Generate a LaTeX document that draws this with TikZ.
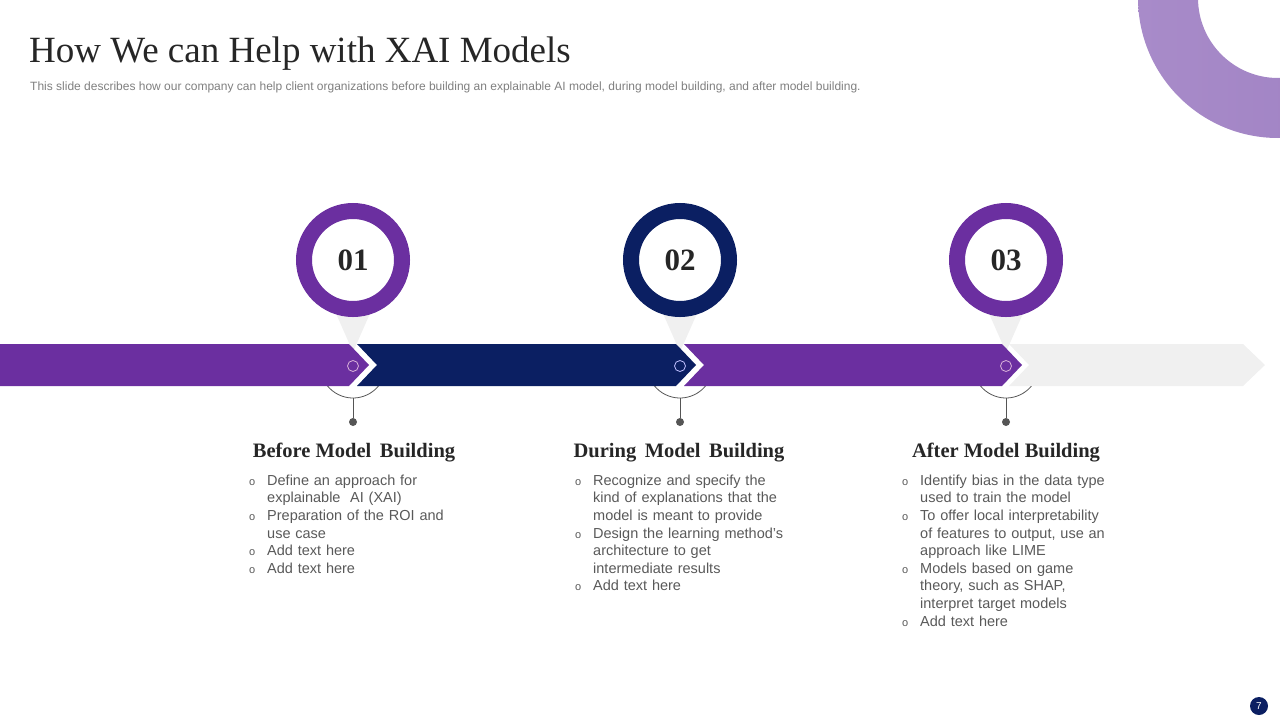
\documentclass[tikz,border=0pt]{standalone}
\usepackage{fontspec}
\setmainfont{Liberation Serif}
\setsansfont{Liberation Sans}
\definecolor{vpurple}{HTML}{6B2FA0}
\definecolor{vnavy}{HTML}{0B1F62}
\definecolor{lgray}{HTML}{F0F0F0}
\definecolor{tgray}{HTML}{595959}
\definecolor{sgray}{HTML}{7F7F7F}
\definecolor{lav}{HTML}{A88BC9}
\definecolor{lavd}{HTML}{9E80C2}
\definecolor{dgray}{HTML}{555555}
\newcommand{\bitem}[1]{\par\noindent\hangindent=18pt\hangafter=1\makebox[18pt][l]{\fontsize{11}{11}\selectfont o}#1}
\begin{document}
\begin{tikzpicture}[x=1pt,y=-1pt,
  ringnode/.style={circle,line width=16pt,fill=white,minimum size=98pt,inner sep=0pt,
    font=\bfseries\fontsize{31}{32}\selectfont,text=black!85},
  pointer/.style={fill=lgray},
  smallc/.style={circle,draw=white,line width=0.8pt,minimum size=11pt,inner sep=0pt},
  dotnode/.style={circle,fill=dgray,minimum size=8pt,inner sep=0pt},
  stem/.style={draw=dgray,line width=1pt},
  arcline/.style={draw=dgray,line width=0.8pt},
  heading/.style={anchor=base,font=\bfseries\fontsize{20.5}{22}\selectfont,text=black!85},
  bullets/.style={anchor=north west,inner sep=0pt,text width=260pt,align=left,
    font=\sffamily\fontsize{14.5}{17.6}\selectfont,text=tgray}
]
\useasboundingbox (0,0) rectangle (1280,720);
% decorative quarter ring
\begin{scope}
\clip (0,0) rectangle (1280,720);
\shade[left color=lav,right color=lavd,even odd rule] (1278,-2) circle[radius=140] (1278,-2) circle[radius=80];
\end{scope}
% title
\node[anchor=base west,inner sep=0pt,font=\fontsize{37}{42}\selectfont,text=black!85] (title) at (29,62) {How We can Help with XAI Models};
\node[anchor=base west,inner sep=0pt,font=\sffamily\fontsize{12}{14}\selectfont,text=sgray] (sub) at (30,90.5) {This slide describes how our company can help client organizations before building an explainable AI model, during model building, and after model building.};
% pointers
\foreach \cx in {353,680,1006}{
  \fill[pointer] (\cx-23,300) -- (\cx+23,300) -- (\cx,352) -- cycle;
}
% arcs below bar
\foreach \cx in {353,680,1006}{
  \draw[arcline] (\cx,365) ++(20:33) arc[start angle=20,end angle=160,radius=33];
}
% bar segments
\fill[vpurple] (0,344) -- (349,344) -- (369,365) -- (349,386) -- (0,386) -- cycle;
\fill[vnavy] (357,344) -- (676,344) -- (696,365) -- (676,386) -- (357,386) -- (377,365) -- cycle;
\fill[vpurple] (684,344) -- (1002,344) -- (1022,365) -- (1002,386) -- (684,386) -- (704,365) -- cycle;
\fill[lgray] (1009,344) -- (1243,344) -- (1265,365) -- (1243,386) -- (1009,386) -- (1029,365) -- cycle;
% rings
\node[ringnode,draw=vpurple] (r1) at (353,260) {01};
\node[ringnode,draw=vnavy] (r2) at (680,260) {02};
\node[ringnode,draw=vpurple] (r3) at (1006,260) {03};
% small circles on bar
\node[smallc,draw=violet!30] (c1) at (353,366) {};
\node[smallc,draw=blue!25] (c2) at (680,366) {};
\node[smallc,draw=violet!30] (c3) at (1006,366) {};
% stems and dots
\coordinate (a1) at (353,398);
\coordinate (a2) at (680,398);
\coordinate (a3) at (1006,398);
\node[dotnode] (d1) at (353,422) {};
\node[dotnode] (d2) at (680,422) {};
\node[dotnode] (d3) at (1006,422) {};
\draw[stem] (a1) -- (d1);
\draw[stem] (a2) -- (d2);
\draw[stem] (a3) -- (d3);
% headings
\node[heading] (h1) at (354,457) {Before Model\ \,Building};
\node[heading] (h2) at (679,457) {During\ \,Model\ \,Building};
\node[heading] (h3) at (1006,457) {After Model Building};
% bullet lists
\node[bullets] (b1) at (249,467.5) {%
\bitem{Define an approach for\newline explainable\ \ AI (XAI)}
\bitem{Preparation of the ROI and\newline use case}
\bitem{Add text here}
\bitem{Add text here}};
\node[bullets] (b2) at (575,467.5) {%
\bitem{Recognize and specify the\newline kind of explanations that the\newline model is meant to provide}
\bitem{Design the learning method's\newline architecture to get\newline intermediate results}
\bitem{Add text here}};
\node[bullets] (b3) at (902,467.5) {%
\bitem{Identify bias in the data type\newline used to train the model}
\bitem{To offer local interpretability\newline of features to output, use an\newline approach like LIME}
\bitem{Models based on game\newline theory, such as SHAP,\newline interpret target models}
\bitem{Add text here}};
% page number
\node[circle,fill=vnavy,minimum size=18pt,inner sep=0pt,text=white,font=\sffamily\fontsize{10}{10}\selectfont] (pg) at (1259,706) {7};
\end{tikzpicture}
\end{document}
